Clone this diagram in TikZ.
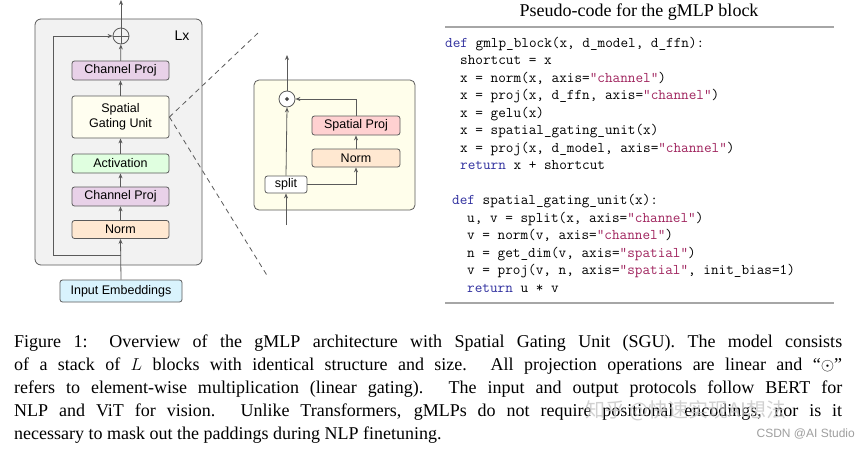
\documentclass[tikz,border=0pt]{standalone}
\usepackage{fontspec}
\setmainfont{Liberation Serif}
\setsansfont{Liberation Sans}
\newfontfamily\cjk{Noto Sans CJK SC}
\usetikzlibrary{arrows.meta}
\definecolor{kw}{HTML}{2E2E9E}
\definecolor{st}{HTML}{A0245E}
\definecolor{ln}{HTML}{5A5A5A}
\newcommand{\K}[1]{\textcolor{kw}{#1}}
\newcommand{\Sg}[1]{\textcolor{st}{#1}}
\begin{document}
\begin{tikzpicture}[x=1pt,y=-1pt,
  blk/.style={draw=ln, rounded corners=2.5pt, line width=0.8pt, minimum width=97pt, minimum height=19pt, inner sep=0pt, font=\sffamily\fontsize{12.5}{14}\selectfont},
  arr/.style={draw=ln, line width=0.8pt, -{Stealth[length=5pt,width=4pt]}},
  ln/.style={draw=ln, line width=0.8pt},
  zoomln/.style={draw=ln, line width=0.8pt, dash pattern=on 5pt off 4pt},
  codetxt/.style={anchor=base west, inner sep=0pt, font=\ttfamily\fontsize{14.8}{16}\selectfont},
  captxt/.style={anchor=base west, inner sep=0pt, font=\fontsize{18}{20}\selectfont}]
\useasboundingbox (0,0) rectangle (865,448);
\fill[white] (0,0) rectangle (865,448);
% left block
\draw[ln, fill=gray!10, rounded corners=6pt] (35,19) rectangle (202,265);
\node[font=\sffamily\fontsize{14}{16}\selectfont] (lx) at (182,36) {Lx};
\node[circle, draw=ln, line width=0.8pt, minimum size=16pt, inner sep=0pt] (add) at (121,36) {};
\draw[ln] (add.north) -- (add.south) (add.west) -- (add.east);
\coordinate (top) at (121,0);
\node[blk, fill=violet!18] (cp2) at (120.5,70.5) {Channel Proj};
\node[blk, fill=yellow!6, minimum height=42pt, align=center, font=\sffamily\fontsize{12.5}{15}\selectfont] (sgu) at (120.5,117) {Spatial\\Gating Unit};
\node[blk, fill=green!12] (act) at (120.5,163.5) {Activation};
\node[blk, fill=violet!18] (cp1) at (120.5,196.5) {Channel Proj};
\node[blk, fill=orange!18, minimum height=18pt] (norm) at (120.5,229.5) {Norm};
\node[blk, fill=cyan!15, minimum width=122pt, minimum height=22pt] (inp) at (121,291) {Input Embeddings};
\coordinate (sk) at (121,255);
\draw[arr] (inp.north) -- (norm.south);
\draw[ln] (sk) -- (53,255) -- (53,36);
\draw[arr] (53,36) -- (add.west);
\draw[arr] (norm) -- (cp1);
\draw[arr] (cp1) -- (act);
\draw[arr] (act) -- (sgu);
\draw[arr] (sgu) -- (cp2);
\draw[arr] (cp2) -- (add);
\draw[arr] (add) -- (top);
% zoom lines
\coordinate (z1) at (258,33);
\coordinate (z2) at (268,277);
\draw[zoomln] (sgu.east) -- (z1);
\draw[zoomln] (sgu.east) -- (z2);
% right block
\draw[ln, fill=yellow!8, rounded corners=5pt] (254,80) rectangle (415,210);
\node[circle, draw=ln, line width=0.8pt, minimum size=16pt, inner sep=0pt, fill=white] (mul) at (287,99) {};
\fill[ln] (mul) circle (1.5pt);
\node[blk, fill=white, minimum width=42pt, minimum height=17pt] (split) at (286,184.5) {split};
\node[blk, fill=orange!18, minimum width=88pt, minimum height=18pt] (n2) at (356,158) {Norm};
\node[blk, fill=red!18, minimum width=88pt] (sp) at (356,125.5) {Spatial Proj};
\coordinate (in2) at (286,225);
\coordinate (out2) at (287,55);
\draw[arr] (in2) -- (split.south);
\draw[arr] (split.north) -- (mul.south);
\draw[arr] (mul.north) -- (out2);
\draw[ln] (split.east) -- (356,184.5);
\draw[arr] (356,184.5) -- (n2.south);
\draw[arr] (n2) -- (sp);
\draw[ln] (sp.north) -- (356,99);
\draw[arr] (356,99) -- (mul.east);
% pseudo-code
\node[font=\fontsize{18}{20}\selectfont] (title) at (639,12) {Pseudo-code for the gMLP block};
\draw[draw=gray!70, line width=1.3pt] (445,27) -- (834,27) (445,303) -- (834,303);
\node[codetxt] (c1) at (445,47) {\K{def} gmlp\_block(x, d\_model, d\_ffn):};
\node[codetxt] (c2) at (460,64.5) {shortcut = x};
\node[codetxt] (c3) at (460,82) {x = norm(x, axis=\Sg{"channel"})};
\node[codetxt] (c4) at (460,99.5) {x = proj(x, d\_ffn, axis=\Sg{"channel"})};
\node[codetxt] (c5) at (460,117) {x = gelu(x)};
\node[codetxt] (c6) at (460,134.5) {x = spatial\_gating\_unit(x)};
\node[codetxt] (c7) at (460,152) {x = proj(x, d\_model, axis=\Sg{"channel"})};
\node[codetxt] (c8) at (460,169.5) {\K{return} x + shortcut};
\node[codetxt] (d1) at (452,204.5) {\K{def} spatial\_gating\_unit(x):};
\node[codetxt] (d2) at (467,222) {u, v = split(x, axis=\Sg{"channel"})};
\node[codetxt] (d3) at (467,239.5) {v = norm(v, axis=\Sg{"channel"})};
\node[codetxt] (d4) at (467,257) {n = get\_dim(v, axis=\Sg{"spatial"})};
\node[codetxt] (d5) at (467,274.5) {v = proj(v, n, axis=\Sg{"spatial"}, init\_bias=1)};
\node[codetxt] (d6) at (467,292) {\K{return} u * v};
% caption
\node[captxt] (l1) at (14,347) {\hbox to 828pt{Figure 1: Overview of the gMLP architecture with Spatial Gating Unit (SGU). The model consists}};
\node[captxt] (l2) at (14,370) {\hbox to 828pt{of a stack of $L$ blocks with identical structure and size. All projection operations are linear and ``$\odot$''}};
\node[captxt] (l3) at (14,393) {\hbox to 828pt{refers to element-wise multiplication (linear gating). The input and output protocols follow BERT for}};
\node[captxt] (l4) at (14,416) {\hbox to 828pt{NLP and ViT for vision. Unlike Transformers, gMLPs do not require positional encodings, nor is it}};
\node[captxt] (l5) at (14,439) {necessary to mask out the paddings during NLP finetuning.};
\node[anchor=base west, inner sep=0pt, text=gray!45, opacity=0.8, font=\cjk\fontsize{20}{22}\selectfont] (wm) at (585,417) {知乎 @快速实现AI想法};
\node[anchor=base east, inner sep=0pt, text=gray!75, font=\sffamily\fontsize{12}{14}\selectfont] (csdn) at (855,437) {CSDN @AI Studio};
\end{tikzpicture}
\end{document}
